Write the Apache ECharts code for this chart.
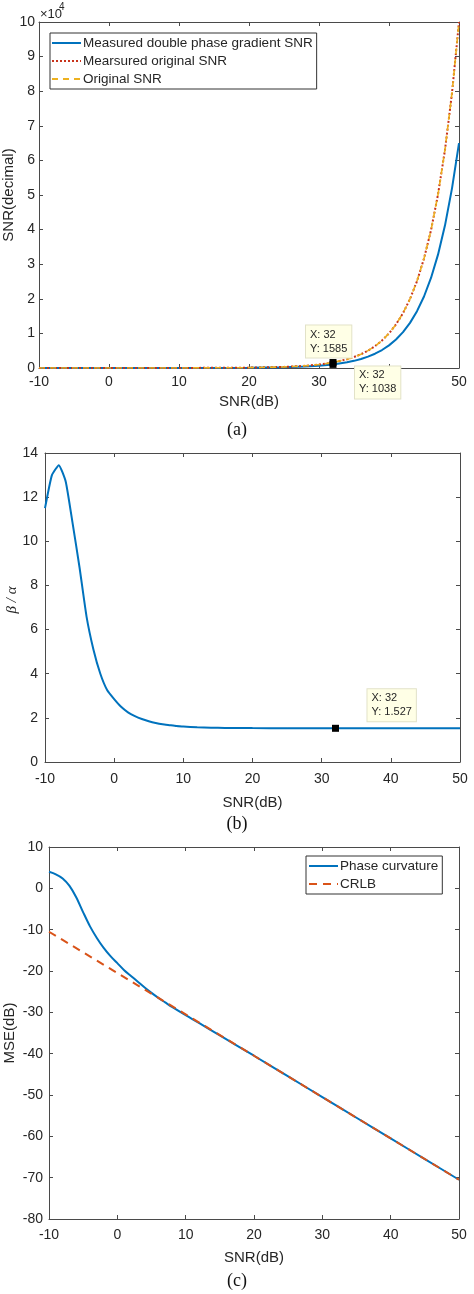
<!DOCTYPE html>
<html>
<head>
<meta charset="utf-8">
<script src="https://cdn.jsdelivr.net/npm/echarts@6/dist/echarts.min.js"></script>
<style>
html,body{margin:0;padding:0;background:#fff;}
#chart{width:474px;height:1294px;}
</style>
</head>
<body>
<div id="chart"></div>
<script>
// ---------- Data ----------
// (a)
const snrA = [-10, 0, 10, 20, 25, 28, 30, 32, 34, 35, 36, 37, 38, 39, 40, 41, 42, 43, 44, 45, 46, 47, 48, 49, 50];
const measuredDoubleGradientSNR = [0.01, 0.31, 6.2, 65, 205, 412, 654, 1038, 1642, 2067, 2602, 3276, 4124, 5191, 6536, 8228, 10359, 13041, 16418, 20669, 26020, 32757, 41239, 51917, 65000];
const measuredOriginalSNR = [0.1, 1.0, 10.1, 99, 317, 630, 1002, 1585, 2510, 3165, 3978, 5015, 6305, 7950, 9990, 12600, 15830, 19960, 25100, 31650, 39780, 50150, 63050, 79480, 99950];
const originalSNR = [0.1, 1, 10, 100, 316, 631, 1000, 1585, 2512, 3162, 3981, 5012, 6310, 7943, 10000, 12589, 15849, 19953, 25119, 31623, 39811, 50119, 63096, 79433, 100000];
const tipA1 = [32, 1585];
const tipA2 = [32, 1038];
// (b)
const snrB = [-10, -9, -8, -7, -6, -5, -4, -3, -2, -1, 0, 1, 2, 3, 4, 5, 6, 7, 8, 9, 10, 12, 14, 16, 18, 20, 25, 30, 32, 35, 40, 45, 50];
const betaOverAlpha = [11.5, 13.0, 13.45, 12.7, 10.8, 8.8, 6.6, 5.1, 4.0, 3.25, 2.85, 2.5, 2.25, 2.08, 1.95, 1.85, 1.77, 1.71, 1.67, 1.63, 1.61, 1.57, 1.55, 1.545, 1.54, 1.535, 1.53, 1.528, 1.527, 1.53, 1.525, 1.53, 1.53];
const tipB = [32, 1.527];
// (c)
const snrC = [-10, -9, -8, -7, -6, -5, -4, -3, -2, -1, 0, 1, 2, 3, 4, 5, 6, 7, 8, 10, 12, 15, 20, 25, 30, 35, 40, 45, 50];
const phaseCurvatureMSE = [4.0, 3.4, 2.4, 0.6, -2.2, -5.8, -9.2, -12.0, -14.4, -16.4, -18.1, -19.8, -21.2, -22.6, -24.0, -25.3, -26.5, -27.6, -28.7, -30.7, -32.6, -35.6, -40.5, -45.5, -50.5, -55.5, -60.5, -65.5, -70.5];
const snrCrlb = [-10, 0, 10, 20, 30, 40, 50];
const crlbMSE = [-10.5, -20.5, -30.5, -40.5, -50.5, -60.5, -70.5];

// ---------- Helpers ----------
const pairs = (xs, ys) => xs.map((x, i) => [x, ys[i]]);
const AX = '#4a4a4a';
const TXT = '#262626';
const SANS = 'Liberation Sans, Arial, sans-serif';
const SERIF = 'Liberation Serif, Times New Roman, serif';
const BLUE = '#0072BD', RED = '#D95319', YEL = '#EDB120';

const grids = [
  {left: 39, top: 22, right: 15, height: 346, containLabel: false, outerBoundsMode: 'none'},
  {left: 45, top: 453, right: 14, height: 309, containLabel: false, outerBoundsMode: 'none'},
  {left: 49, top: 847, right: 15, height: 372, containLabel: false, outerBoundsMode: 'none'}
];
const yCfg = [
  {min: 0, max: 10, interval: 1, labelMargin: 4},
  {min: 0, max: 14, interval: 2, labelMargin: 7},
  {min: -80, max: 10, interval: 10, labelMargin: 6}
];
const xLabelMargin = [7, 10, 9];
const xNameGap = [26, 33, 31];

const xAxes = [], yAxes = [];
for (let i = 0; i < 3; i++) {
  xAxes.push({
    type: 'value', gridIndex: i, min: -10, max: 50, interval: 10, position: 'bottom',
    axisLine: {show: true, onZero: false, lineStyle: {color: AX, width: 1}},
    axisTick: {show: true, inside: true, length: 4, lineStyle: {color: AX}},
    splitLine: {show: false},
    axisLabel: {color: TXT, fontSize: 14, fontFamily: SANS, margin: xLabelMargin[i]},
    name: 'SNR(dB)', nameLocation: 'middle', nameGap: xNameGap[i], nameMoveOverlap: false,
    nameTextStyle: {color: TXT, fontSize: 15, fontFamily: SANS}
  });
}
for (let i = 0; i < 3; i++) {
  xAxes.push({
    type: 'value', gridIndex: i, min: -10, max: 50, interval: 10, position: 'top',
    axisLine: {show: true, onZero: false, lineStyle: {color: AX, width: 1}},
    axisTick: {show: true, inside: true, length: 4, lineStyle: {color: AX}},
    splitLine: {show: false}, axisLabel: {show: false}
  });
}
for (let i = 0; i < 3; i++) {
  const c = yCfg[i];
  yAxes.push({
    type: 'value', gridIndex: i, min: c.min, max: c.max, interval: c.interval, position: 'left',
    axisLine: {show: true, onZero: false, lineStyle: {color: AX, width: 1}},
    axisTick: {show: true, inside: true, length: 4, lineStyle: {color: AX}},
    splitLine: {show: false},
    axisLabel: {color: TXT, fontSize: 14, fontFamily: SANS, margin: c.labelMargin}
  });
}
for (let i = 0; i < 3; i++) {
  const c = yCfg[i];
  yAxes.push({
    type: 'value', gridIndex: i, min: c.min, max: c.max, interval: c.interval, position: 'right',
    axisLine: {show: true, onZero: false, lineStyle: {color: AX, width: 1}},
    axisTick: {show: true, inside: true, length: 4, lineStyle: {color: AX}},
    splitLine: {show: false}, axisLabel: {show: false}
  });
}

const tipLabel = (text, offset) => ({
  show: true, position: 'inside', offset: offset,
  formatter: text,
  color: TXT, fontSize: 11, fontFamily: SANS, lineHeight: 14, align: 'left',
  backgroundColor: '#FFFFE6', borderColor: '#E2E2C8', borderWidth: 1,
  padding: [2, 4, 2, 4]
});
const tipPoint = (coord, tip, offset) => ({
  symbol: 'rect', symbolSize: 7, silent: true, animation: false,
  itemStyle: {color: '#000'},
  data: [{coord: coord, label: tipLabel('X: ' + tip[0] + '\nY: ' + tip[1], offset)}]
});

const series = [
  {name: 'Measured double phase gradient SNR', type: 'line', xAxisIndex: 0, yAxisIndex: 0,
   data: pairs(snrA, measuredDoubleGradientSNR.map(v => v / 10000)), symbol: 'none',
   lineStyle: {color: BLUE, width: 2}, itemStyle: {color: BLUE},
   markPoint: tipPoint([tipA2[0], tipA2[1] / 10000], tipA2, [22, 18])},
  {name: 'Mearsured original SNR', type: 'line', xAxisIndex: 0, yAxisIndex: 0,
   data: pairs(snrA, measuredOriginalSNR.map(v => v / 10000)), symbol: 'none',
   lineStyle: {color: '#C8321A', width: 2, type: [2, 2]}, itemStyle: {color: '#C8321A'}},
  {name: 'Original SNR', type: 'line', xAxisIndex: 0, yAxisIndex: 0,
   data: pairs(snrA, originalSNR.map(v => v / 10000)), symbol: 'none',
   lineStyle: {color: YEL, width: 1.6, type: [6, 5]}, itemStyle: {color: YEL},
   markPoint: tipPoint([tipA1[0], tipA1[1] / 10000], tipA1, [-27, -21])},
  {name: 'beta', type: 'line', xAxisIndex: 1, yAxisIndex: 1,
   data: pairs(snrB, betaOverAlpha), symbol: 'none', smooth: 0.15,
   lineStyle: {color: BLUE, width: 2}, itemStyle: {color: BLUE},
   markPoint: tipPoint(tipB, tipB, [32, -23])},
  {name: 'Phase curvature', type: 'line', xAxisIndex: 2, yAxisIndex: 2,
   data: pairs(snrC, phaseCurvatureMSE), symbol: 'none', smooth: 0.3,
   lineStyle: {color: BLUE, width: 2}, itemStyle: {color: BLUE}},
  {name: 'CRLB', type: 'line', xAxisIndex: 2, yAxisIndex: 2,
   data: pairs(snrCrlb, crlbMSE), symbol: 'none',
   lineStyle: {color: RED, width: 2, type: [8, 6]}, itemStyle: {color: RED}}
];

const legendBase = {
  orient: 'vertical', itemWidth: 29, itemHeight: 14, itemGap: 4,
  backgroundColor: '#fff', borderColor: '#333', borderWidth: 1,
  itemStyle: {opacity: 0, borderWidth: 0},
  textStyle: {color: TXT, fontSize: 13.5, fontFamily: SANS, padding: [0, 0, 0, -3]},
  selectedMode: false
};

const yName = (text, x, y, font, style) => ({
  type: 'text', x: x, y: y, rotation: Math.PI / 2,
  style: {text: text, fontSize: 15, fontFamily: font, fontStyle: style, fill: TXT, align: 'center', verticalAlign: 'middle'}
});

const option = {
  animation: false,
  backgroundColor: '#fff',
  grid: grids,
  xAxis: xAxes,
  yAxis: yAxes,
  legend: [
    Object.assign({}, legendBase, {left: 50, top: 33, padding: [3, 4, 3, 1],
      data: ['Measured double phase gradient SNR', 'Mearsured original SNR', 'Original SNR']}),
    Object.assign({}, legendBase, {left: 306, top: 856, padding: [3, 4, 3, 2],
      data: ['Phase curvature', 'CRLB']})
  ],
  graphic: [
    {type: 'text', left: 40, top: 8, style: {text: '×10', fontSize: 13, fontFamily: SANS, fill: TXT}},
    {type: 'text', left: 59, top: 2, style: {text: '4', fontSize: 10, fontFamily: SANS, fill: TXT}},
    yName('SNR(decimal)', 9, 195, SANS, 'normal'),
    yName('β / α', 12, 600, SERIF, 'italic'),
    yName('MSE(dB)', 10, 1033, SANS, 'normal'),
    {type: 'text', left: 'center', top: 421, style: {text: '(a)', fontSize: 18, fontFamily: SERIF, fill: '#111'}},
    {type: 'text', left: 'center', top: 815, style: {text: '(b)', fontSize: 18, fontFamily: SERIF, fill: '#111'}},
    {type: 'text', left: 'center', top: 1272, style: {text: '(c)', fontSize: 18, fontFamily: SERIF, fill: '#111'}}
  ],
  series: series
};

const chart = echarts.init(document.getElementById('chart'), null, {renderer: 'canvas'});
chart.setOption(option);
</script>
</body>
</html>
